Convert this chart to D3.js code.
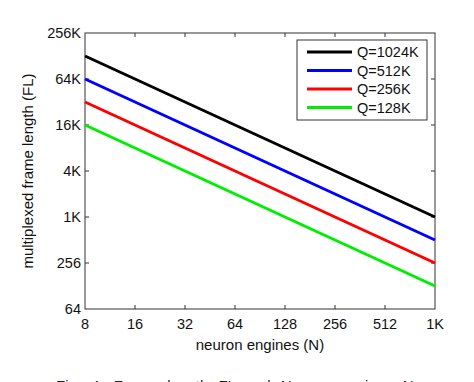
<!DOCTYPE html>
<html><head><meta charset="utf-8">
<script src="https://cdn.jsdelivr.net/npm/d3@7"></script>
<style>body{margin:0;background:#fff}svg{display:block}text{font-family:"Liberation Sans",Arial,sans-serif}</style>
</head><body><svg id="c" width="474" height="382"></svg>
<script>
const engines = [8, 16, 32, 64, 128, 256, 512, 1024];
const xTickLabels = ["8","16","32","64","128","256","512","1K"];
const yTicks = [64, 256, 1024, 4096, 16384, 65536, 262144];
const yTickLabels = ["64","256","1K","4K","16K","64K","256K"];
const seriesNames = ["Q=1024K","Q=512K","Q=256K","Q=128K"];
const seriesColors = ["#000000","#0000ff","#ff0000","#00ee00"];
const fl1024 = [131072, 65536, 32768, 16384, 8192, 4096, 2048, 1024];
const fl512  = [65536, 32768, 16384, 8192, 4096, 2048, 1024, 512];
const fl256  = [32768, 16384, 8192, 4096, 2048, 1024, 512, 256];
const fl128  = [16384, 8192, 4096, 2048, 1024, 512, 256, 128];
const seriesValues = [fl1024, fl512, fl256, fl128];

const svg = d3.select("#c");
const L=85, R=435, T=33, B=309;
const x = d3.scaleLog().base(2).domain([8,1024]).range([L,R]);
const y = d3.scaleLog().base(2).domain([64,262144]).range([B,T]);
const axCol="#333";

svg.append("rect").attr("x",L).attr("y",T).attr("width",R-L).attr("height",B-T)
  .attr("fill","#fff").attr("stroke",axCol).attr("stroke-width",1);

const g = svg.append("g");
engines.forEach((v,i)=>{
  const px = x(v);
  if(i>0 && i<engines.length-1){
    g.append("line").attr("x1",px).attr("x2",px).attr("y1",B).attr("y2",B-4).attr("stroke",axCol);
    g.append("line").attr("x1",px).attr("x2",px).attr("y1",T).attr("y2",T+4).attr("stroke",axCol);
  }
  g.append("text").attr("x",px).attr("y",B+19.5).attr("text-anchor","middle")
   .attr("font-size",14.5).attr("fill","#111").text(xTickLabels[i]);
});
yTicks.forEach((v,i)=>{
  const py = y(v);
  if(i>0 && i<yTicks.length-1){
    g.append("line").attr("x1",L).attr("x2",L+4).attr("y1",py).attr("y2",py).attr("stroke",axCol);
    g.append("line").attr("x1",R).attr("x2",R-4).attr("y1",py).attr("y2",py).attr("stroke",axCol);
  }
  g.append("text").attr("x",L-4).attr("y",py+5).attr("text-anchor","end")
   .attr("font-size",14.5).attr("fill","#111").text(yTickLabels[i]);
});

const line = d3.line().x((d,i)=>x(engines[i])).y(d=>y(d));
seriesValues.forEach((vals,k)=>{
  svg.append("path").datum(vals).attr("d",line).attr("fill","none")
    .attr("stroke",seriesColors[k]).attr("stroke-width",3);
});

const lg = svg.append("g");
lg.append("rect").attr("x",297).attr("y",40).attr("width",130).attr("height",80)
  .attr("fill","#fff").attr("stroke",axCol);
seriesNames.forEach((n,k)=>{
  const yy = 52 + k*18.5;
  lg.append("line").attr("x1",307).attr("x2",352).attr("y1",yy).attr("y2",yy)
    .attr("stroke",seriesColors[k]).attr("stroke-width",3);
  lg.append("text").attr("x",357).attr("y",yy+5).attr("font-size",14.5).attr("fill","#111").text(n);
});

svg.append("text").attr("x",(L+R)/2).attr("y",350).attr("text-anchor","middle")
  .attr("font-size",15).attr("fill","#111").text("neuron engines (N)");
svg.append("text").attr("transform",`translate(33,${(T+B)/2}) rotate(-90)`)
  .attr("text-anchor","middle").attr("font-size",15).attr("fill","#111")
  .text("multiplexed frame length (FL)");

svg.append("text").attr("x",56).attr("y",391).attr("font-family","Liberation Serif,serif")
  .attr("font-size",15).attr("fill","#222").attr("word-spacing","6")
  .text("Fig. 4.   Frame length FL and Neuron engines N");
</script></body></html>
